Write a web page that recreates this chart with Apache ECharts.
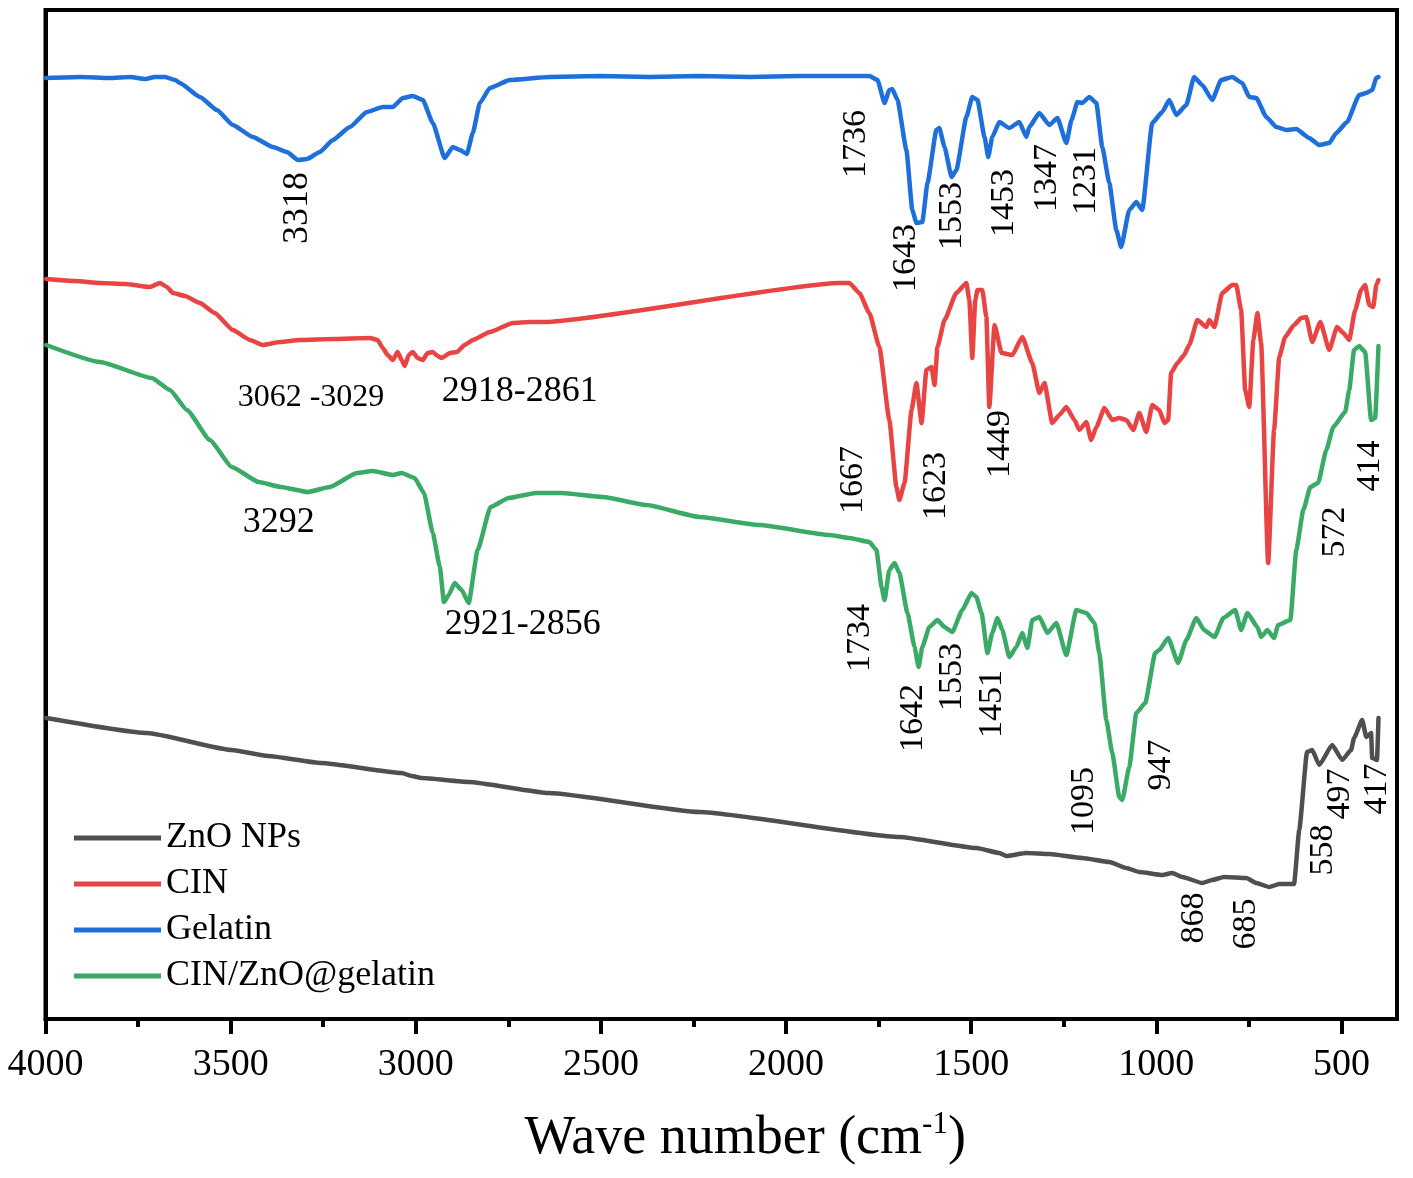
<!DOCTYPE html>
<html>
<head>
<meta charset="utf-8">
<script src="https://cdn.jsdelivr.net/npm/echarts@6/dist/echarts.min.js"></script>
<style>
html,body{margin:0;padding:0;background:#fff;}
#chart{width:1413px;height:1178px;}
</style>
</head>
<body>
<div id="chart"></div>
<script>
// ---- Data (wavenumber cm^-1, transmittance in arbitrary offset units) ----
const seriesNames = ['ZnO NPs', 'CIN', 'Gelatin', 'CIN/ZnO@gelatin'];

const znoNPs = [[3998,301],[3726,286],[3497,269],[3399,263],[3256,256],[3038,246],[3011,243],[2984,241],[2857,237],[2641,226],[2234,207],[1694,182],[1486,171],[1424,166],[1405,163],[1351,166],[1289,165],[1200,161],[1127,157],[1081,151],[1046,147],[984,144],[957,146],[930,142],[876,136],[849,139],[817,142],[757,141],[730,136],[695,132],[668,135],[628,135],[614,189],[593,267],[579,269],[560,254],[525,274],[498,259],[474,269],[466,281],[444,299],[433,282],[420,286],[417,261],[404,259],[400,301]];

const cin = [[3998,740],[3920,738],[3853,736],[3785,735],[3718,732],[3691,736],[3672,732],[3656,726],[3623,723],[3583,716],[3543,706],[3494,689],[3448,679],[3413,674],[3367,677],[3313,679],[3224,680],[3124,681],[3103,679],[3089,671],[3076,664],[3062,659],[3049,667],[3038,659],[3030,653],[3019,664],[3008,667],[2995,661],[2981,659],[2968,666],[2954,667],[2941,663],[2930,661],[2908,666],[2889,667],[2868,674],[2846,679],[2800,687],[2738,696],[2692,697],[2652,697],[1856,736],[1829,736],[1802,726],[1775,706],[1748,672],[1721,599],[1702,532],[1694,519],[1680,536],[1661,609],[1648,636],[1634,596],[1621,649],[1607,652],[1599,634],[1591,672],[1572,699],[1540,726],[1513,736],[1505,719],[1497,661],[1489,719],[1483,729],[1470,729],[1459,702],[1451,612],[1437,694],[1418,666],[1389,664],[1362,682],[1335,656],[1316,626],[1302,636],[1281,596],[1262,604],[1243,612],[1221,599],[1208,589],[1189,597],[1176,579],[1162,592],[1140,611],[1119,599],[1100,601],[1081,599],[1062,589],[1046,606],[1027,587],[1011,614],[992,609],[978,596],[968,599],[960,646],[943,656],[925,664],[911,674],[889,699],[865,692],[857,699],[843,692],[822,726],[795,734],[784,734],[771,709],[760,629],[749,612],[738,679],[727,706],[717,676],[698,456],[682,589],[668,662],[652,682],[628,694],[609,701],[595,702],[579,677],[557,697],[533,669],[512,692],[495,686],[479,679],[463,709],[447,729],[436,734],[425,714],[414,712],[406,734],[400,739]];

const gelatin = [[3999,941],[3907,942],[3826,941],[3772,942],[3731,940],[3704,942],[3677,942],[3650,939],[3637,936],[3583,922],[3537,909],[3494,894],[3440,882],[3386,872],[3348,867],[3318,859],[3294,860],[3259,867],[3224,879],[3178,892],[3132,907],[3089,912],[3062,912],[3035,921],[3008,923],[2981,919],[2954,896],[2922,861],[2900,872],[2881,869],[2862,865],[2846,886],[2827,916],[2800,931],[2746,939],[2638,942],[2503,943],[2368,942],[2234,943],[2099,942],[1964,943],[1883,943],[1775,943],[1753,939],[1734,916],[1721,929],[1713,930],[1699,919],[1675,869],[1659,809],[1648,796],[1632,797],[1618,836],[1594,889],[1586,891],[1572,872],[1553,842],[1540,849],[1513,902],[1497,922],[1483,919],[1464,882],[1454,862],[1443,882],[1424,897],[1397,891],[1370,897],[1351,882],[1343,892],[1316,906],[1289,894],[1267,901],[1243,876],[1229,899],[1213,917],[1200,916],[1181,922],[1162,916],[1146,872],[1127,836],[1108,789],[1095,772],[1073,809],[1054,817],[1038,809],[1011,896],[984,907],[965,919],[946,904],[919,914],[898,942],[876,934],[849,919],[825,939],[795,942],[768,936],[749,922],[730,921],[703,902],[676,892],[649,889],[622,890],[587,881],[560,874],[533,876],[514,886],[485,897],[452,924],[433,926],[417,929],[406,941],[400,942]];

const cinZnoGelatin = [[3998,674],[3853,657],[3713,641],[3664,629],[3618,609],[3556,579],[3497,552],[3424,537],[3364,532],[3292,527],[3232,532],[3159,546],[3116,548],[3062,544],[3038,546],[3003,541],[2978,526],[2954,486],[2935,452],[2924,417],[2911,424],[2895,436],[2876,429],[2857,416],[2833,469],[2798,512],[2749,521],[2676,526],[2606,526],[2495,522],[2377,514],[2234,502],[2072,494],[1883,484],[1829,481],[1775,477],[1756,469],[1742,432],[1734,419],[1721,449],[1707,456],[1694,446],[1672,406],[1653,372],[1642,352],[1632,372],[1613,392],[1591,399],[1572,392],[1551,387],[1524,409],[1499,426],[1486,422],[1472,406],[1456,366],[1443,386],[1429,401],[1416,389],[1397,362],[1378,372],[1362,386],[1348,371],[1335,399],[1316,402],[1294,386],[1270,396],[1243,364],[1216,409],[1189,406],[1167,396],[1154,366],[1135,299],[1119,266],[1100,222],[1092,219],[1073,252],[1054,306],[1030,316],[1003,366],[992,369],[968,381],[941,356],[919,379],[892,401],[871,389],[843,382],[819,401],[787,409],[771,389],[754,406],[727,392],[717,382],[700,389],[682,381],[671,394],[638,399],[622,469],[603,509],[584,532],[563,536],[541,569],[522,592],[490,607],[479,629],[466,669],[452,673],[436,667],[420,599],[409,601],[400,673]];

// Peak annotations: [wavenumber, transmittance, text]
const rotatedNotes = [
  [3318,811,'3318'],[1810,875,'1736'],[1675,761,'1643'],[1551,803,'1553'],[1410,816,'1453'],[1294,841,'1347'],[1189,838,'1231'],
  [1818,539,'1667'],[1594,533,'1623'],[1421,575,'1449'],
  [1799,381,'1734'],[1656,301,'1642'],[1551,342,'1553'],[1443,315,'1451'],[1194,218,'1095'],[987,254,'947'],[517,487,'572'],[422,553,'414'],
  [898,101,'868'],[757,95,'685'],[549,169,'558'],[503,225,'497'],[404,230,'417']
];
const flatNotes = [
  [3283,621,'3062 -3029'],[2719,627,'2918-2861'],[3370,496,'3292'],[2711,394,'2921-2856']
];

const majorTicks = [4000,3500,3000,2500,2000,1500,1000,500];
const minorTicks = [3750,3250,2750,2250,1750,1250,750];

// ---- Chart ----
const colors = {'ZnO NPs':'#4f4f4f','CIN':'#e84444','Gelatin':'#1f6fdb','CIN/ZnO@gelatin':'#3aaa66'};
const seriesData = {'ZnO NPs':znoNPs,'CIN':cin,'Gelatin':gelatin,'CIN/ZnO@gelatin':cinZnoGelatin};
const serif = 'Liberation Serif, Times New Roman, serif';

const lineSeries = seriesNames.map(n => ({
  name: n, type: 'line', data: seriesData[n], showSymbol: false, symbol: 'none',
  color: colors[n], smooth: 0.15, smoothMonotone: 'x',
  lineStyle: {color: colors[n], width: 4.5, cap: 'round', join: 'round'},
  z: 3, silent: true
}));

const noteLabel = (rot, size) => ({show: true, rotate: rot, fontSize: size, color: '#000', opacity: 1,
  fontFamily: serif, textBorderWidth: 0, position: 'inside', align: 'center', verticalAlign: 'middle'});

const noteSeries = {
  name: 'notes', type: 'scatter', symbol: 'circle', symbolSize: 0, silent: true, z: 5,
  itemStyle: {color: '#000', opacity: 1},
  data: rotatedNotes.map(a => ({value: [a[0], a[1]], name: a[2],
      label: noteLabel(90, a[2] === '3318' ? 36 : 34)}))
    .concat(flatNotes.map(a => ({value: [a[0], a[1]], name: a[2],
      label: noteLabel(0, a[2] === '3062 -3029' ? 32 : 36)}))),
  label: {show: true, position: 'inside', formatter: p => p.name,
    fontFamily: serif, color: '#000', align: 'center', verticalAlign: 'middle'}
};

const chart = echarts.init(document.getElementById('chart'), null, {renderer: 'canvas'});
chart.setOption({
  backgroundColor: '#fff',
  animation: false,
  grid: {left: 45.5, right: 16, top: 10, bottom: 159, show: true, borderColor: '#000', borderWidth: 4, backgroundColor: 'transparent'},
  legend: {
    data: seriesNames, orient: 'vertical', left: 74, top: 818, padding: 0,
    icon: 'rect', itemWidth: 87, itemHeight: 5, itemGap: 6,
    textStyle: {fontFamily: serif, fontSize: 36, color: '#000', lineHeight: 40}
  },
  xAxis: [{
    type: 'value', min: 350, max: 4000, inverse: true, position: 'bottom',
    axisLine: {show: true, lineStyle: {color: '#000', width: 4}},
    axisTick: {show: true, customValues: majorTicks, length: 15, inside: false, lineStyle: {color: '#000', width: 4}},
    axisLabel: {show: true, customValues: majorTicks, formatter: v => String(v), fontFamily: serif, fontSize: 38, color: '#000', margin: 27},
    splitLine: {show: false},
    name: '{a|Wave number (cm}{s|-1}{a|)}', nameLocation: 'middle', nameGap: 90,
    nameTextStyle: {padding: [0,0,0,48], rich: {
      a: {fontFamily: serif, fontSize: 54, color: '#000', lineHeight: 60},
      s: {fontFamily: serif, fontSize: 31, color: '#000', verticalAlign: 'top', lineHeight: 34}
    }}
  }, {
    type: 'value', min: 350, max: 4000, inverse: true, position: 'bottom',
    axisLine: {show: false},
    axisTick: {show: true, customValues: minorTicks, length: 8, lineStyle: {color: '#000', width: 4}},
    axisLabel: {show: false}, splitLine: {show: false}
  }],
  yAxis: {
    type: 'value', min: 0, max: 1009,
    axisLine: {show: true, lineStyle: {color: '#000', width: 4}},
    axisTick: {show: false}, axisLabel: {show: false}, splitLine: {show: false}
  },
  series: lineSeries.concat([noteSeries])
});
</script>
</body>
</html>
